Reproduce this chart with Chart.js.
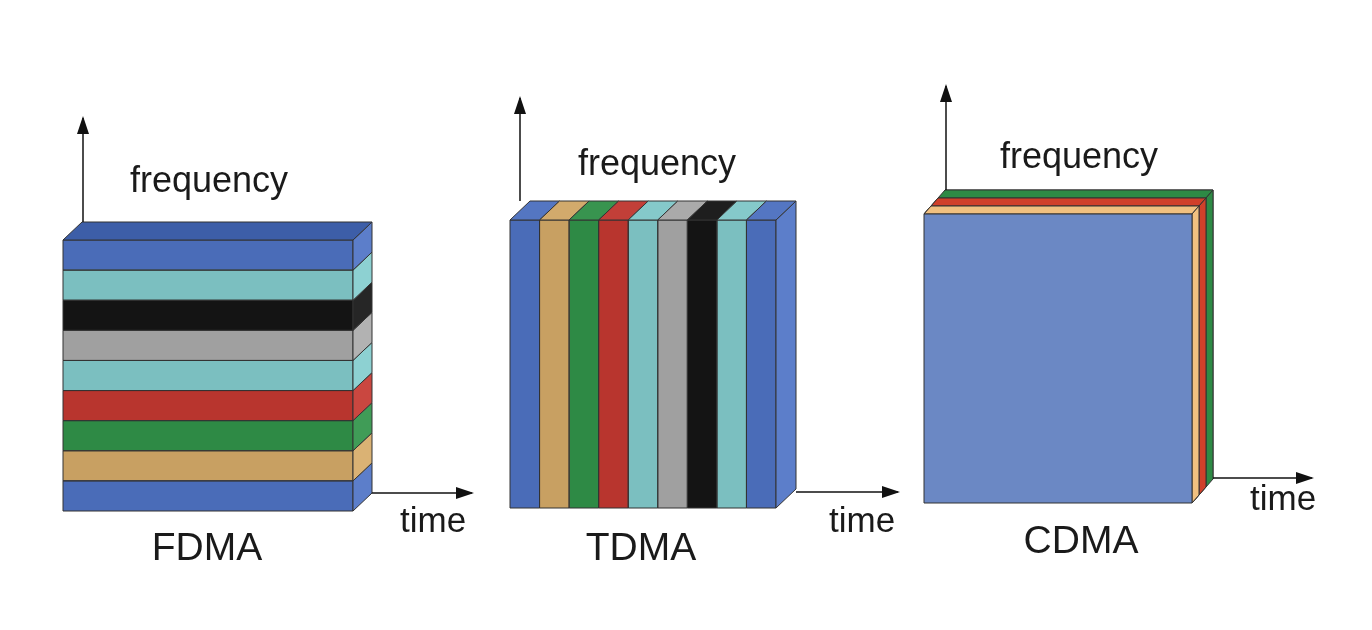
<!DOCTYPE html>
<html>
<head>
<meta charset="utf-8">
<script src="https://cdn.jsdelivr.net/npm/chart.js@4"></script>
<style>
  body{margin:0;background:#fff;}
  .wrap{position:relative;width:1372px;height:630px;}
  .wrap canvas{position:absolute;left:0;top:0;}
</style>
</head>
<body>
<div class="wrap">
  <canvas id="fdma" width="1372" height="630"></canvas>
  <canvas id="tdma" width="1372" height="630"></canvas>
  <canvas id="cdma" width="1372" height="630"></canvas>
</div>
<script>
// FDMA frequency bands, top to bottom
const fdmaBands = ['#4a6cb8','#7bbfc0','#141414','#a0a0a0','#7bbfc0','#b8352e','#2e8a45','#c8a062','#4a6cb8'];
// TDMA time slots, left to right
const tdmaSlots = ['#4a6cb8','#c8a062','#2e8a45','#b8352e','#7bbfc0','#a0a0a0','#141414','#7bbfc0','#4a6cb8'];
// CDMA layers, back to front (front is the big blue face)
const cdmaLayers = ['#2e8a45','#d0402a','#f0c080'];
const cdmaFront = '#6b88c4';
const panelLabels = ['FDMA','TDMA','CDMA'];

const FONT = '"Liberation Sans", Arial, sans-serif';
const EDGE = '#333';

function lighten(hex, amt){
  const n = parseInt(hex.slice(1),16);
  const r = Math.min(255, (n>>16) + amt), g = Math.min(255, ((n>>8)&255) + amt), b = Math.min(255, (n&255) + amt);
  return `rgb(${r},${g},${b})`;
}

function poly(ctx, pts, fill){
  ctx.beginPath();
  pts.forEach((p,i) => i ? ctx.lineTo(p[0],p[1]) : ctx.moveTo(p[0],p[1]));
  ctx.closePath();
  if(fill){ ctx.fillStyle = fill; ctx.fill(); }
  ctx.strokeStyle = EDGE; ctx.lineWidth = 1; ctx.stroke();
}

function arrow(ctx, x1, y1, x2, y2){
  ctx.strokeStyle = '#111'; ctx.fillStyle = '#111'; ctx.lineWidth = 1.5;
  ctx.beginPath(); ctx.moveTo(x1,y1); ctx.lineTo(x2,y2); ctx.stroke();
  const a = Math.atan2(y2-y1, x2-x1), L = 16, W = 6;
  ctx.beginPath();
  ctx.moveTo(x2 + Math.cos(a)*2, y2 + Math.sin(a)*2);
  ctx.lineTo(x2 - Math.cos(a)*L - Math.sin(a)*W, y2 - Math.sin(a)*L + Math.cos(a)*W);
  ctx.lineTo(x2 - Math.cos(a)*L + Math.sin(a)*W, y2 - Math.sin(a)*L - Math.cos(a)*W);
  ctx.closePath(); ctx.fill();
}

function text(ctx, s, x, y, size){
  ctx.fillStyle = '#1a1a1a';
  ctx.font = `${size}px ${FONT}`;
  ctx.textBaseline = 'alphabetic';
  ctx.textAlign = 'left';
  ctx.fillText(s, x, y);
}

const box3d = {
  id: 'box3d',
  beforeDatasetsDraw(chart){
    const o = chart.config.options.plugins.box3d;
    if(!o.layers) return;
    const ctx = chart.ctx, a = chart.chartArea;
    const n = o.layers.length;
    o.layers.forEach((c, i) => {
      const k = n - i, dx = o.step[0]*k, dy = o.step[1]*k;
      const x0 = a.left + dx, y0 = a.top + dy, x1 = a.right + dx, y1 = a.bottom + dy;
      poly(ctx, [[x0,y0],[x1,y0],[x1,y1],[x0,y1]], c);
      poly(ctx, [[a.left,a.top],[x0,y0],[x1,y0],[a.right,a.top]], c);
      poly(ctx, [[a.right,a.top],[x1,y0],[x1,y1],[a.right,a.bottom]], c);
    });
  },
  afterDatasetsDraw(chart){
    const o = chart.config.options.plugins.box3d;
    const ctx = chart.ctx, a = chart.chartArea;
    const [dx, dy] = o.depth;
    if(o.mode === 'rows' || o.mode === 'cols'){
      chart.data.datasets.forEach((ds, i) => {
        const el = chart.getDatasetMeta(i).data[0];
        const col = ds.backgroundColor;
        let l, r, t, b;
        if(o.mode === 'rows'){ l = a.left; r = a.right; t = Math.min(el.y, el.base); b = Math.max(el.y, el.base); }
        else { t = a.top; b = a.bottom; l = Math.min(el.x, el.base); r = Math.max(el.x, el.base); }
        poly(ctx, [[l,t],[r,t],[r,b],[l,b]], null);
        if(o.mode === 'rows' || i === chart.data.datasets.length - 1)
          poly(ctx, [[r,t],[r+dx,t+dy],[r+dx,b+dy],[r,b]], lighten(col, 18));
        if(o.mode === 'cols' || Math.abs(t - a.top) < 1)
          poly(ctx, [[l,t],[l+dx,t+dy],[r+dx,t+dy],[r,t]], o.mode === 'rows' ? '#3d5ea8' : lighten(col, 10));
      });
    } else {
      poly(ctx, [[a.left,a.top],[a.right,a.top],[a.right,a.bottom],[a.left,a.bottom]], null);
    }
    const ax = o.axes;
    arrow(ctx, ax.v[0], ax.v[1], ax.v[0], ax.v[2]);
    arrow(ctx, ax.h[0], ax.h[1], ax.h[2], ax.h[1]);
    text(ctx, 'frequency', o.freq[0], o.freq[1], 36);
    text(ctx, 'time', o.time[0], o.time[1], 35);
    ctx.font = `39px ${FONT}`; ctx.textAlign = 'center'; ctx.fillStyle = '#1a1a1a';
    ctx.fillText(o.label, o.labelPos[0], o.labelPos[1]);
  }
};

function makeChart(id, rect, datasets, horizontal, max, extra){
  const [x0, y0, x1, y1] = rect;
  return new Chart(document.getElementById(id), {
    type: 'bar',
    data: { labels: [''], datasets },
    options: {
      responsive: false, animation: false,
      indexAxis: horizontal ? 'y' : 'x',
      layout: { padding: { left: x0, top: y0, right: 1372 - x1, bottom: 630 - y1 } },
      scales: {
        x: { display: false, stacked: true, min: horizontal ? 0 : undefined, max: horizontal ? max : undefined },
        y: { display: false, stacked: true, min: horizontal ? undefined : 0, max: horizontal ? undefined : max }
      },
      plugins: { legend: { display: false }, tooltip: { enabled: false }, box3d: extra }
    },
    plugins: [box3d]
  });
}

const bars = cols => cols.map(c => ({ data: [1], backgroundColor: c, borderWidth: 0, barPercentage: 1, categoryPercentage: 1 }));

makeChart('fdma', [63, 240, 353, 511], bars(fdmaBands.slice().reverse()), false, fdmaBands.length, {
  mode: 'rows', depth: [19, -18], label: panelLabels[0], labelPos: [207, 560],
  axes: { v: [83, 222, 118], h: [372, 493, 472] }, freq: [130, 192], time: [400, 532]
});
makeChart('tdma', [510, 220, 776, 508], bars(tdmaSlots), true, tdmaSlots.length, {
  mode: 'cols', depth: [20, -19], label: panelLabels[1], labelPos: [641, 560],
  axes: { v: [520, 201, 98], h: [796, 492, 898] }, freq: [578, 175], time: [829, 532]
});
makeChart('cdma', [924, 214, 1192, 503], bars([cdmaFront]), false, 1, {
  mode: 'single', depth: [0, 0], layers: cdmaLayers, step: [7, -8], label: panelLabels[2], labelPos: [1081, 553],
  axes: { v: [946, 190, 86], h: [1213, 478, 1312] }, freq: [1000, 168], time: [1250, 510]
});
</script>
</body>
</html>
